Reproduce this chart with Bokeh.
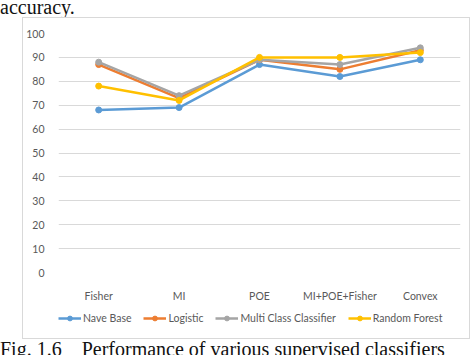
from bokeh.plotting import figure
from bokeh.models import FactorRange, Range1d, Legend, LegendItem, Div, FixedTicker
from bokeh.layouts import column
from bokeh.embed import file_html
from bokeh.resources import INLINE

categories = ["Fisher", "MI", "POE", "MI+POE+Fisher", "Convex"]
nave_base = [68, 69, 87, 82, 89]
logistic = [87, 73, 89, 85, 93]
multi_class = [88, 74, 89, 87, 94]
random_forest = [78, 72, 90, 90, 92]
y_ticks = [0, 10, 20, 30, 40, 50, 60, 70, 80, 90, 100]

series = [
    ("Nave Base", nave_base, "#5B9BD5"),
    ("Logistic", logistic, "#ED7D31"),
    ("Multi Class Classifier", multi_class, "#A5A5A5"),
    ("Random Forest", random_forest, "#FFC000"),
]

# main chart
p = figure(width=446, height=290, x_range=FactorRange(*categories), y_range=Range1d(0, 100),
           output_backend="svg", toolbar_location=None,
           min_border_left=35, min_border_right=9, min_border_top=15, min_border_bottom=36)
p.outline_line_color = None
p.background_fill_color = "white"
p.border_fill_color = "white"

p.yaxis.ticker = FixedTicker(ticks=y_ticks)
for ax in (p.xaxis[0], p.yaxis[0]):
    ax.axis_line_color = None
    ax.major_tick_line_color = None
    ax.minor_tick_line_color = None
    ax.major_label_text_color = "#595959"
    ax.major_label_text_font = "Lato"
    ax.major_label_text_font_size = "10.5px"
p.yaxis.major_label_standoff = 8
p.xaxis.major_label_standoff = 11
p.xgrid.grid_line_color = None
p.ygrid.grid_line_color = "#d9d9d9"
p.ygrid.grid_line_width = 1

for name, vals, color in series:
    p.line(categories, vals, line_color=color, line_width=2.5)
    p.scatter(categories, vals, marker="circle", size=6, fill_color=color, line_color=color)

# legend strip: same series drawn again, but its value range is kept out of view,
# so that only the legend entries show
pl = figure(width=446, height=30, x_axis_type=None, y_axis_type=None,
            x_range=FactorRange(*categories), y_range=Range1d(200, 300),
            output_backend="svg", toolbar_location=None,
            min_border_left=0, min_border_right=0, min_border_top=0, min_border_bottom=0)
pl.outline_line_color = None
pl.background_fill_color = "white"
pl.border_fill_color = "white"
pl.xgrid.visible = False
pl.ygrid.visible = False
items = []
for name, vals, color in series:
    r1 = pl.line(categories, vals, line_color=color, line_width=2.5)
    r2 = pl.scatter(categories, vals, marker="circle", size=6, fill_color=color, line_color=color)
    items.append(LegendItem(label=name, renderers=[r1, r2]))

legend = Legend(items=items, orientation="horizontal", location=(0, 14))
legend.label_text_font = "Lato"
legend.label_text_font_size = "10.5px"
legend.label_text_color = "#595959"
legend.glyph_width = 23
legend.glyph_height = 12
legend.label_height = 12
legend.label_standoff = 2
legend.spacing = 12
legend.padding = 2
legend.margin = 0
legend.border_line_color = None
legend.background_fill_alpha = 0
pl.add_layout(legend, "center")

top = Div(text="accuracy.", width=474, height=17, margin=0,
          styles={"font-family": "Liberation Serif", "font-size": "20px", "color": "#111",
                  "line-height": "14px", "overflow": "hidden"})
bottom = Div(text="Fig. 1.6&nbsp;&nbsp;&nbsp; Performance of various supervised classifiers",
             width=474, height=16, margin=0,
             styles={"font-family": "Liberation Serif", "font-size": "20px", "color": "#111",
                     "line-height": "21px", "overflow": "hidden", "white-space": "nowrap"})

box = column(p, pl, spacing=0, margin=(0, 0, 0, 22), styles={"border": "1px solid #d9d9d9"})
layout = column(top, box, bottom, spacing=0, margin=0)
open("out.html", "w").write(file_html(layout, INLINE))
